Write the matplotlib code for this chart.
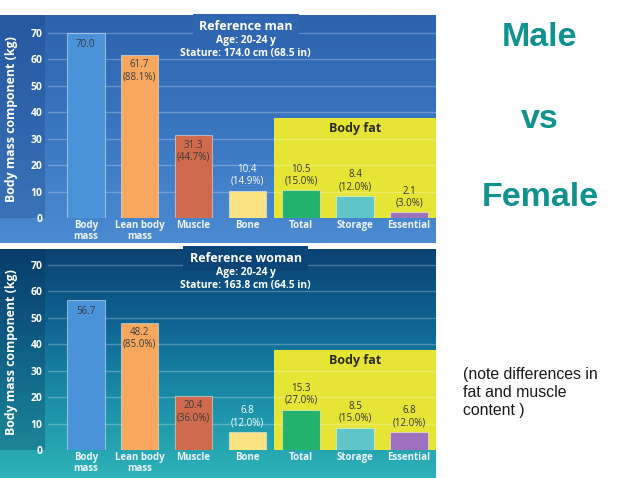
import numpy as np
import matplotlib
matplotlib.use("Agg")
import matplotlib.pyplot as plt
from matplotlib.colors import to_rgb
from matplotlib.patches import Rectangle

plt.rcParams["font.family"] = ["Open Sans", "DejaVu Sans"]

# ---- data ----
categories = ["Body\nmass", "Lean body\nmass", "Muscle", "Bone", "Total", "Storage", "Essential"]
bar_colors = ["#4a92da", "#f7a85e", "#cf6a4c", "#fbe282", "#23b26c", "#5ec6c8", "#9d6fbd"]

man_kg = [70.0, 61.7, 31.3, 10.4, 10.5, 8.4, 2.1]
man_pct = [None, 88.1, 44.7, 14.9, 15.0, 12.0, 3.0]
woman_kg = [56.7, 48.2, 20.4, 6.8, 15.3, 8.5, 6.8]
woman_pct = [None, 85.0, 36.0, 12.0, 27.0, 15.0, 12.0]

yticks = [0, 10, 20, 30, 40, 50, 60, 70]

W, H = 638, 478
fig = plt.figure(figsize=(W / 100, H / 100), dpi=100)
fig.patch.set_facecolor("white")


def px_axes(x0, y0, x1, y1):
    # pixel box (top-left origin) -> figure axes
    return fig.add_axes([x0 / W, 1 - y1 / H, (x1 - x0) / W, (y1 - y0) / H])


def gradient_panel(x0, y0, x1, y1, stops):
    bg = px_axes(x0, y0, x1, y1)
    n = 200
    t = np.linspace(0, 1, n)
    pos = np.linspace(0, 1, len(stops))
    cols = np.array([to_rgb(c) for c in stops])
    img = np.stack([np.interp(t, pos, cols[:, k]) for k in range(3)], axis=1)
    img = np.repeat(img[:, None, :], 2, axis=1)
    bg.imshow(img, aspect="auto", extent=(0, 1, 0, 1), origin="upper")
    bg.set_xlim(0, 1)
    bg.set_ylim(0, 1)
    bg.axis("off")
    return bg


def draw_panel(y0, y_zero, y1, stops, strip, title, age, stature, kg, pct, title_bg):
    bg = gradient_panel(0, y0, 436, y1, stops)
    # darker left strip
    frac = (y1 - y_zero) / (y1 - y0)
    bg.add_patch(Rectangle((0, frac), 45 / 436, 1 - frac, color=strip, alpha=0.28, lw=0))

    ymax = (y_zero - y0) / 2.643
    ax = px_axes(48, y0, 436, y_zero)
    ax.set_facecolor("none")
    ax.set_xlim(-0.7, 6.5)
    ax.set_ylim(0, ymax)
    for s in ax.spines.values():
        s.set_visible(False)

    # body fat box
    ax.add_patch(Rectangle((3.5, 0), 3.1, 38.0, color="#e6e535", zorder=1, lw=0))
    ax.text(5.0, 34.0, "Body fat", ha="center", va="center", fontsize=9,
            fontweight="bold", color="#2b2b2b", zorder=5)

    # grid lines
    for v in yticks[1:]:
        ax.axhline(v, color="white", alpha=0.25, lw=1.0, zorder=2)

    x = np.arange(len(categories))
    ax.bar(x, kg, width=0.7, color=bar_colors, edgecolor=(1, 1, 1, 0.45),
           lw=0.8, zorder=3)

    for i, (v, p) in enumerate(zip(kg, pct)):
        txt = f"{v:.1f}" if p is None else f"{v:.1f}\n({p:.1f}%)"
        if v > 16:
            yy = v - (4.3 if p is None else 6.0)
            col = "#3a3a3a"
        else:
            yy = v + 5.7
            col = "white" if i < 4 else "#333333"
        ax.text(i, yy, txt, ha="center", va="center", fontsize=7, color=col,
                linespacing=1.12, zorder=5)

    ax.set_yticks(yticks)
    ax.set_yticklabels([str(t) for t in yticks], fontsize=7.5, fontweight="bold", color="white")
    ax.set_xticks(x)
    ax.set_xticklabels(categories, fontsize=7, fontweight="bold", color="#eef4fb",
                       linespacing=1.05)
    ax.tick_params(length=0, axis="y", pad=4)
    ax.tick_params(length=0, axis="x", pad=1.5)

    # titles
    ax.text(2.97, 72.4, title, ha="center", va="center", fontsize=9,
            fontweight="bold", color="white", zorder=6,
            bbox=dict(boxstyle="square,pad=0.5", fc=title_bg, ec="none"))
    ax.text(2.97, 67.2, age, ha="center", va="center", fontsize=7.4,
            fontweight="bold", color="white", zorder=6)
    ax.text(2.97, 62.4, stature, ha="center", va="center", fontsize=7.4,
            fontweight="bold", color="white", zorder=6)

    fig.text(12 / W, 1 - ((y0 + y_zero) / 2 + 3) / H, "Body mass component (kg)",
             rotation=90, ha="center", va="center", fontsize=8.9,
             fontweight="bold", color="white")


draw_panel(15, 218, 243, ["#2c62ae", "#3a76c1", "#4b8bd1"], "#173f7a",
           "Reference man", "Age: 20-24 y", "Stature: 174.0 cm (68.5 in)",
           man_kg, man_pct, "#2e66b1")

draw_panel(249, 450, 478, ["#0a4273", "#0f6593", "#1b8fa8", "#2db3b7"], "#073050",
           "Reference woman", "Age: 20-24 y", "Stature: 163.8 cm (64.5 in)",
           woman_kg, woman_pct, "#0b4577")

# right-hand slide text
teal = "#10928f"
for word, yy in [("Male", 37), ("vs", 120), ("Female", 197)]:
    fig.text(540 / W, 1 - yy / H, word, ha="center", va="center", fontsize=24.5,
             fontweight="bold", color=teal, family="Liberation Sans")

fig.text(463 / W, 1 - 367 / H, "(note differences in\nfat and muscle\ncontent )",
         ha="left", va="top", fontsize=11.4, color="#1a1a1a",
         family="Liberation Sans", linespacing=1.27)

fig.savefig("out.png", dpi=100, facecolor="white")
